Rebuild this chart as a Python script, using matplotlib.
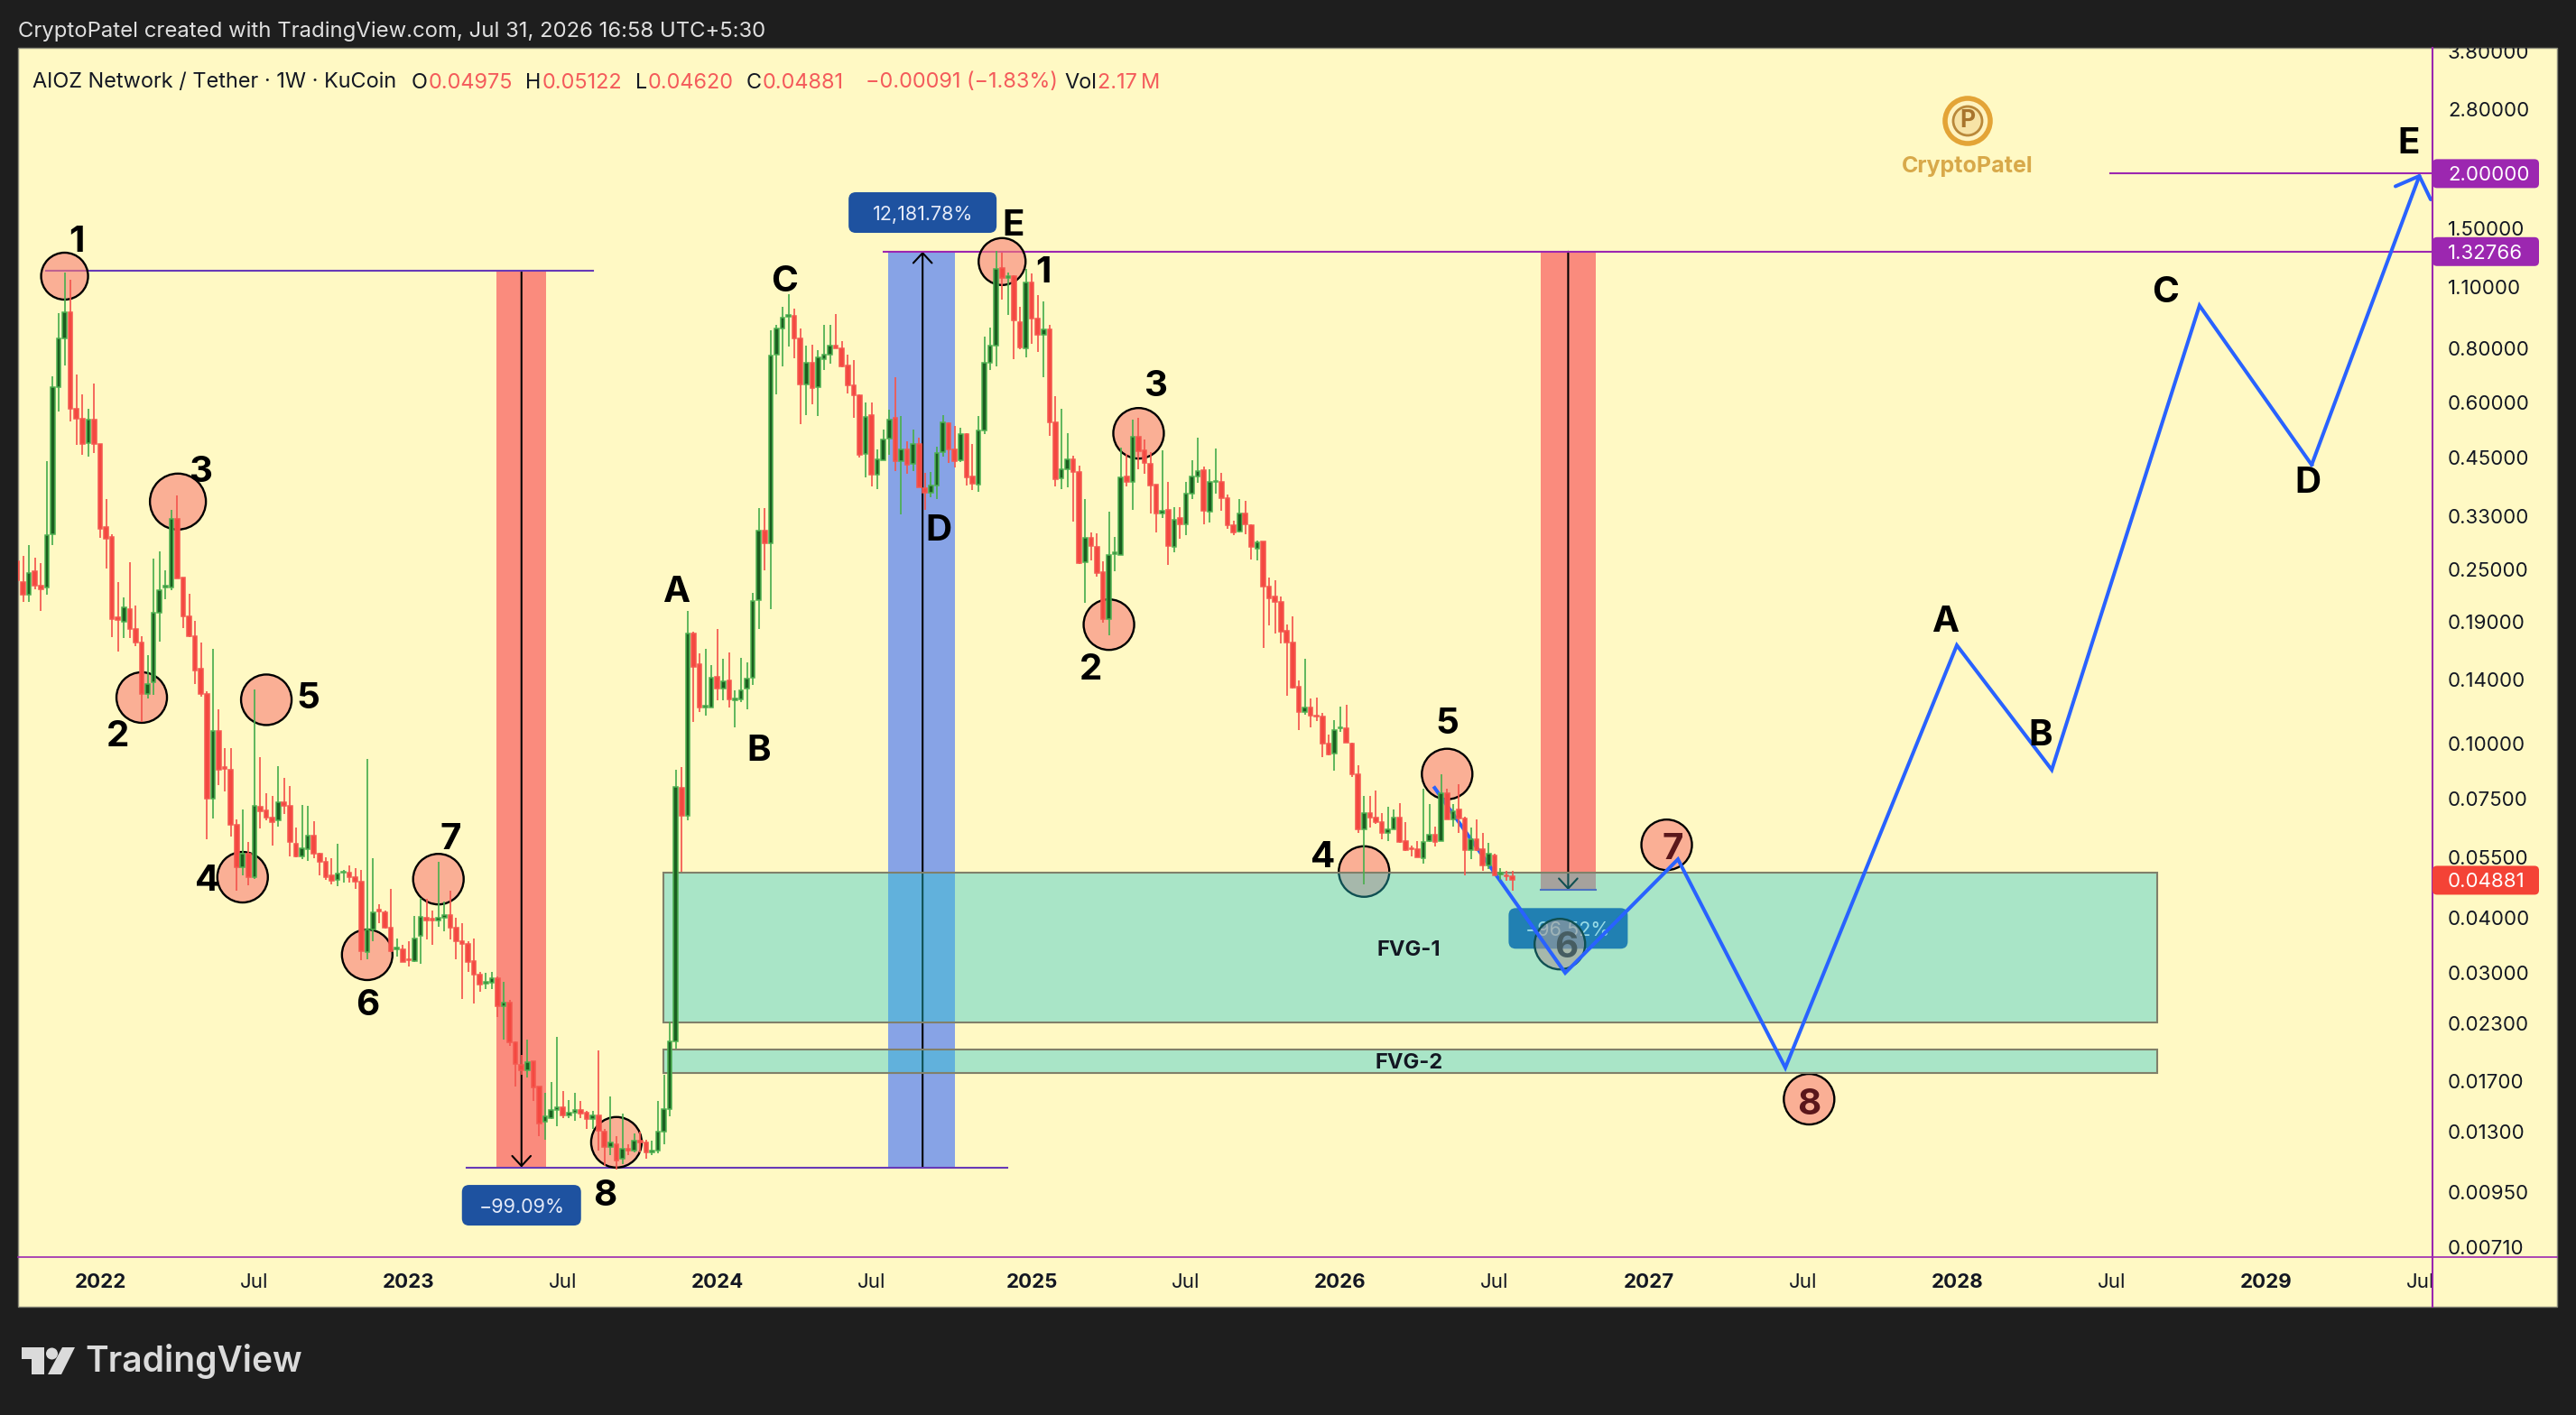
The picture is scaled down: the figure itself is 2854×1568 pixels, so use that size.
import matplotlib
matplotlib.use("Agg")
import matplotlib.pyplot as plt
from matplotlib.patches import Rectangle, FancyBboxPatch, Circle, Polygon
from matplotlib.lines import Line2D
from matplotlib.transforms import Affine2D, IdentityTransform, Bbox
from matplotlib.ticker import FixedLocator, FixedFormatter, NullLocator

plt.rcParams['font.family'] = ['Inter', 'Roboto', 'DejaVu Sans']

# ---------- weekly candles (first bar index -14; index 0 = first week of 2022) ----------
first_bar = -14
opens = [
 .261,.234,.219,.247,.230,.227,.301,.652,.840,.966,.581,.552,.485,.549,
 .483,.312,.296,.194,.190,.203,.183,.170,.130,.138,.199,.227,.227,.326,.239,.195,
 .176,.148,.130,.075,.107,.0883,.0872,.0654,.0522,.0561,.0496,.0719,.0705,.0680,.0669,.0736,
 .0720,.0591,.0553,.0576,.0616,.0562,.0537,.0500,.0488,.0508,.0508,.0497,.0485,.0334,
 .0377,.0418,.0412,.0381,.0340,.0340,.0322,.0319,.0365,.0401,.0398,.0395,.0400,.0407,
 .0381,.0354,.0350,.0319,.0298,.0283,.0285,.0292,.0252,.0257,.0208,.0185,.0180,.0189,.0165,.0137,
 .0140,.0146,.0148,.0142,.0144,.0146,.0144,.0139,.0142,.0130,.0120,.0122,.0113,.0119,.0118,.0124,
 .0123,.0117,.0118,.0130,.0147,.0209,.0795,.0685,.1785,.1517,.1212,.1212,.1424,.1335,.1392,.1255,
 .1264,.1335,.1417,.2126,.306,.287,.772,.885,.941,.945,.843,.660,.739,.651,.755,.771,.809,.800,
 .730,.658,.625,.458,.561,.411,.444,.497,.554,.441,.469,.436,.483,.383,.374,.388,.463,.539,.470,
 .443,.509,.407,.391,.519,.739,.810,1.215,1.158,1.165,.917,.800,1.128,.934,.856,.881,.541,.403,
 .424,.445,.418,.260,.295,.282,.246,.193,.271,.270,.408,.396,.501,.468,.436,.390,.336,.341,.281,
 .327,.317,.372,.408,.421,.339,.395,.395,.364,.316,.305,.336,.316,.279,.290,.2284,.2170,.2110,
 .1812,.1700,.1349,.1183,.1212,.1158,.1153,.1000,.0952,.1083,.1083,.1000,.0852,.0637,.0696,.0680,
 .0662,.0626,.0637,.0680,.0599,.0577,.0574,.0548,.0599,.0621,.0599,.0771,.0672,.0708,.0675,.0573,
 .0606,.0574,.0527,.0557,.0503,.0502,.04975]
highs = [
 .272,.268,.284,.266,.258,.441,.689,.961,1.19,1.145,.696,.627,.580,.664,
 .483,.362,.300,.234,.216,.260,.207,.176,.159,.264,.275,.249,.341,.368,.240,.220,
 .191,.170,.132,.165,.120,.0978,.0978,.0672,.0708,.0596,.1333,.0933,.0772,.0759,.0890,.0834,
 .0800,.0643,.0724,.0720,.0667,.0565,.0550,.0548,.0592,.0515,.0527,.0519,.0515,.0925,
 .0549,.0430,.0416,.0467,.0360,.0347,.0355,.0404,.0445,.0442,.0416,.0539,.0436,.0461,
 .0400,.0390,.0354,.0360,.0302,.0300,.0302,.0295,.0286,.0260,.0209,.0195,.0211,.0189,.0165,.0160,
 .0169,.0214,.0161,.0154,.0160,.0153,.0145,.0145,.0200,.0132,.0157,.0127,.0143,.0122,.0129,.0130,
 .0125,.0124,.0153,.0176,.0232,.0873,.0884,.201,.1805,.1608,.1650,.1510,.1830,.1561,.1617,.1325,
 .1570,.1533,.221,.345,.345,.878,.904,.994,1.059,.983,.885,.809,.815,.790,.904,.904,.955,.829,
 .772,.752,.627,.601,.601,.470,.520,.579,.687,.560,.490,.520,.500,.415,.417,.476,.563,.541,.532,
 .527,.512,.484,.560,.849,.889,1.334,1.32,1.188,1.171,.994,1.21,1.183,1.056,1.024,.904,.620,.582,
 .512,.455,.432,.362,.304,.302,.261,.338,.296,.474,.459,.550,.554,.495,.464,.391,.468,.395,.346,
 .347,.395,.444,.499,.429,.424,.471,.416,.370,.323,.362,.359,.317,.291,.290,.2394,.2356,.2164,
 .1869,.1950,.1395,.1564,.1268,.1273,.1176,.1050,.1130,.1214,.1230,.1004,.0894,.0761,.0761,.0783,
 .0696,.0718,.0707,.0733,.0663,.0586,.0599,.0790,.0729,.0647,.0853,.0790,.0729,.0810,.0683,.0644,
 .0672,.0627,.0595,.0560,.0521,.0513,.05122]
lows = [
 .235,.211,.211,.225,.201,.219,.284,.572,.73,.544,.481,.457,.452,.460,
 .295,.251,.175,.162,.174,.174,.167,.112,.127,.129,.171,.214,.224,.238,.184,.175,
 .137,.128,.0606,.0675,.0804,.0780,.0615,.0463,.0500,.0476,.0491,.0642,.0670,.0587,.0648,.0690,
 .0554,.0551,.0546,.0540,.0549,.0502,.0490,.0478,.0473,.0483,.0483,.0467,.0321,.0322,
 .0354,.0389,.0379,.0334,.0327,.0317,.0310,.0318,.0315,.0357,.0348,.0382,.0373,.0358,
 .0322,.0261,.0301,.0256,.0272,.0276,.0275,.0238,.0211,.0204,.0165,.0176,.0173,.0153,.0127,.0125,
 .0139,.0134,.0140,.0140,.0138,.0140,.0132,.0132,.0118,.0109,.0115,.0107,.0110,.0115,.0117,.0117,
 .0113,.0115,.0116,.0122,.0141,.0202,.0510,.0670,.1119,.1184,.1162,.1212,.1257,.1255,.1212,.1088,
 .1243,.1197,.1365,.183,.2485,.2026,.628,.725,.805,.758,.537,.563,.596,.559,.714,.736,.797,.722,
 .629,.554,.450,.406,.386,.381,.444,.457,.420,.334,.414,.420,.385,.342,.366,.362,.453,.438,.428,
 .440,.389,.379,.375,.508,.712,.725,1.034,.953,.753,.794,.761,.818,.785,.686,.504,.386,.381,
 .384,.322,.257,.210,.262,.241,.189,.177,.248,.270,.386,.341,.423,.414,.335,.304,.327,.256,.274,
 .294,.299,.362,.394,.317,.320,.372,.340,.310,.299,.304,.300,.263,.262,.1655,.186,.1781,.1697,
 .1286,.1336,.1077,.1165,.1092,.1125,.0933,.0941,.0869,.1065,.1004,.0838,.0626,.0478,.0645,.0657,
 .0605,.0600,.0637,.0595,.0569,.0552,.0550,.0532,.0597,.0583,.0599,.0671,.0648,.0625,.0500,.0545,
 .0569,.0512,.0517,.0500,.0490,.0486,.04620]
closes = [
 .236,.219,.245,.229,.225,.299,.652,.840,.966,.581,.552,.483,.549,.483,
 .310,.294,.193,.192,.205,.183,.170,.130,.137,.199,.224,.229,.326,.238,.195,.176,
 .147,.130,.075,.107,.0872,.0875,.0654,.0522,.0561,.0496,.0721,.0703,.0677,.0664,.0736,.0723,
 .0598,.0554,.0577,.0616,.0560,.0539,.0495,.0487,.0506,.0510,.0495,.0484,.0336,.0377,
 .0413,.0415,.0380,.0336,.0342,.0318,.0320,.0360,.0403,.0395,.0396,.0401,.0407,.0380,
 .0355,.0350,.0317,.0298,.0282,.0286,.0292,.0252,.0257,.0208,.0186,.0180,.0188,.0164,.0136,.0141,
 .0146,.0148,.0142,.0144,.0146,.0143,.0139,.0142,.0131,.0120,.0123,.0112,.0119,.0118,.0124,.0123,
 .0117,.0118,.0130,.0147,.0209,.0799,.0684,.1785,.1501,.1212,.1221,.1417,.1335,.1390,.1260,.1269,
 .1322,.1410,.2120,.307,.287,.769,.885,.937,.950,.840,.660,.739,.648,.763,.772,.809,.797,.725,
 .659,.624,.457,.558,.411,.445,.494,.550,.441,.469,.434,.482,.385,.374,.388,.461,.541,.469,.441,
 .509,.406,.392,.519,.739,.810,1.211,1.158,1.165,.926,.804,1.128,.932,.858,.881,.541,.401,.423,
 .445,.418,.258,.295,.283,.245,.193,.269,.273,.406,.396,.501,.465,.437,.389,.335,.340,.283,.324,
 .317,.372,.407,.420,.340,.395,.397,.364,.316,.304,.336,.317,.282,.288,.228,.2145,.2110,.1804,
 .1705,.1346,.1184,.1212,.1158,.1153,.1000,.0945,.1073,.1090,.1004,.0851,.0637,.0696,.0680,.0661,
 .0625,.0639,.0680,.0598,.0573,.0574,.0550,.0598,.0621,.0598,.0771,.0672,.0703,.0675,.0573,.0605,
 .0573,.0527,.0560,.0500,.0507,.0499,.04881]
n_bars = min(len(opens), len(highs), len(lows), len(closes))

# ---------- axis ----------
price_ticks = [3.8, 2.8, 1.5, 1.1, 0.8, 0.6, 0.45, 0.33, 0.25, 0.19, 0.14, 0.10, 0.075,
               0.055, 0.04, 0.03, 0.023, 0.017, 0.013, 0.0095, 0.0071]
time_ticks = [0, 26, 52, 78, 104, 130, 157, 183, 209, 235, 261, 287, 313, 339, 365, 391]
time_labels = ['2022', 'Jul', '2023', 'Jul', '2024', 'Jul', '2025', 'Jul', '2026', 'Jul',
               '2027', 'Jul', '2028', 'Jul', '2029', 'Jul']

# ---------- projected wave ----------
wave_x = [224.9, 246.9, 265.9, 284, 312.9, 328.9, 353.8, 372.7]
wave_y = [0.0793, 0.0300, 0.0545, 0.01823, 0.1678, 0.0872, 1.0, 0.433]
wave_end = (391, 2.0)

# ---------- circles and labels ----------
circle_x = [-6, 7, 13.1, 24, 28, 45, 57, 87, 152, 170, 175, 213, 227, 246, 264, 288]
circle_y = [1.167, .1275, .357, .0496, .126, .0330, .0491, .01232, 1.26, .187, .511, .0511, .0853, .0349, .0588, .01545]
circle_d = [52, 56, 62, 56, 56, 56, 56, 56, 52, 56, 56, 56, 56, 56, 56, 56]

label_t = ['1','2','3','4','5','6','7','8','A','B','C','D','E','1','2','3','5','4','A','B','C','D','E']
label_x = [-4,3,17,18,35,45,59,85,97,111,115.3,141.3,153.8,159,167,178,227,206,311,327,348,372,389]
label_y = [1.424,.1055,.424,.0494,.129,.0257,.0615,.00948,.2252,.098,1.151,.311,1.544,1.212,.1498,.664,.1127,.0559,.1926,.106,1.087,.40,2.377]
covered_t = ['6', '7', '8']
covered_x = [247, 265, 288]
covered_y = [.0349, .0585, .01524]

# ---------- zones ----------
fvg_names = ['FVG-1', 'FVG-2']
fvg_x = (94.9, 346.7)
fvg_low = [.02315, .01773]
fvg_high = [.0509, .0201]
fvg_label_x = 220.6
fvg_label_y = [.0342, .01886]

band_left = [66.8, 132.8, 242.8]
band_right = [75.1, 144.0, 252.0]
band_low = [.0108, .0108, .0464]
band_high = [1.2, 1.32766, 1.32766]
band_mid = [71, 138.6, 247.4]
band_text = ['\u221299.09%', '12,181.78%', '\u221296.52%']
band_label_y = [0.00885, 1.63, 0.0379]
band_color = ['#FA8B7D', '#87A3E6', '#FA8B7D']

W, H, DPI = 2854, 1568, 100
L_PX, R_PX, T_PX, B_PX = 20, 2695, 53, 1393
BAR0_PX, BAR_STEP = 111, 6.574
fig = plt.figure(figsize=(W / DPI, H / DPI), dpi=DPI, facecolor='#1E1E1E')
px = Affine2D().scale(1, -1).translate(0, H)

fig.add_artist(Rectangle((20, 53), 2813, 1395, transform=px, fc='#FFF9C4', ec='#8A8A7A', lw=1.0, zorder=-1))

ax = fig.add_axes([L_PX / W, (H - B_PX) / H, (R_PX - L_PX) / W, (B_PX - T_PX) / H], facecolor='none')
ax.set_yscale('log')
ax.set_xlim((L_PX - BAR0_PX) / BAR_STEP, (R_PX - BAR0_PX) / BAR_STEP)
ax.set_ylim(0.00674, 3.873)
for s in ax.spines.values():
    s.set_visible(False)
ax.yaxis.tick_right()
ax.yaxis.set_major_locator(FixedLocator(price_ticks))
ax.yaxis.set_minor_locator(NullLocator())
ax.yaxis.set_major_formatter(FixedFormatter([f'{p:.5f}' for p in price_ticks]))
ax.tick_params(axis='y', length=0, pad=12.2, labelsize=16, labelcolor='#131722')
ax.set_xticks(time_ticks)
ax.set_xticklabels(time_labels)
ax.tick_params(axis='x', length=0, pad=13, labelsize=16, labelcolor='#131722')
for lab, t in zip(ax.get_xticklabels(), time_labels):
    if t != 'Jul':
        lab.set_fontweight('bold')
clip = Bbox([[20, H - B_PX], [2833, H - T_PX]])
for lab in ax.get_yticklabels():
    lab.set_clip_on(True)
    lab.set_clip_box(clip)

# bands + arrows
for k in range(3):
    ax.add_patch(Rectangle((band_left[k], band_low[k]), band_right[k] - band_left[k],
                           band_high[k] - band_low[k], fc=band_color[k], ec='none', zorder=1))
    up = k == 1
    ax.annotate('', xy=(band_mid[k], band_high[k] if up else band_low[k]),
                xytext=(band_mid[k], band_low[k] if up else band_high[k]),
                arrowprops=dict(arrowstyle='->,head_length=0.4,head_width=0.37', mutation_scale=20,
                                lw=1.5, color='black', shrinkA=0, shrinkB=0), zorder=1.5)

# reference levels
ax.plot([-9.1, 83.1], [1.2, 1.2], color='#673AB7', lw=1.5, zorder=1.6)
ax.plot([61.8, 152.9], [.0108, .0108], color='#673AB7', lw=1.5, zorder=1.6)
ax.plot([132, (R_PX - BAR0_PX) / BAR_STEP], [1.32766, 1.32766], color='#9C27B0', lw=1.5, zorder=1.6)
ax.plot([338.8, (R_PX - BAR0_PX) / BAR_STEP], [2.0, 2.0], color='#9C27B0', lw=1.5, zorder=1.6)
ax.plot([band_left[2], band_right[2]], [band_low[2]] * 2, color='#673AB7', lw=1.5, zorder=1.6)

# measure labels (sized in pixels, centred on their band)
def measure_box(cx_bar, cy_price, wpx, hpx, text, zorder):
    cx, cy = ax.transData.transform((cx_bar, cy_price))
    ax.add_patch(FancyBboxPatch((cx - wpx / 2, cy - hpx / 2), wpx, hpx,
                                boxstyle='round,pad=0,rounding_size=8', transform=IdentityTransform(),
                                fc='#1E52A0', ec='none', zorder=zorder))
    ax.text(cx, cy, text, transform=IdentityTransform(), ha='center', va='center_baseline',
            color='#E4EAF8', fontsize=15.5, zorder=zorder + .1)

measure_box(band_mid[0], band_label_y[0], 132, 45, band_text[0], 2)
measure_box(band_mid[1], band_label_y[1], 164, 45, band_text[1], 2)
measure_box(band_mid[2], band_label_y[2], 132, 45, band_text[2], 2)

# circles and the numerals inside them
ax.scatter(circle_x, circle_y, s=[(d * .72) ** 2 for d in circle_d], fc=(247 / 255, 126 / 255, 119 / 255, .6),
           ec='black', lw=1.7, zorder=3)
for t, x, y in zip(covered_t, covered_x, covered_y):
    ax.text(x, y, t, fontsize=29, fontweight='bold', ha='center', va='center_baseline', color='#5A171B', zorder=3.1)

# FVG zones
for nm, lo, hi, ly in zip(fvg_names, fvg_low, fvg_high, fvg_label_y):
    ax.add_patch(Rectangle((fvg_x[0], lo), fvg_x[1] - fvg_x[0], hi - lo,
                           fc=(40 / 255, 199 / 255, 206 / 255, .4), ec='#80806A', lw=1.5, zorder=4))
    ax.text(fvg_label_x, ly, nm, fontsize=17, fontweight='bold', ha='center', va='center_baseline',
            color='#131722', zorder=4.2)

# wave
ax.plot(wave_x, wave_y, color='#2962FF', lw=2.9, solid_joinstyle='miter', zorder=5)
ax.annotate('', xy=wave_end, xytext=(wave_x[-1], wave_y[-1]),
            arrowprops=dict(arrowstyle='->,head_length=0.72,head_width=0.75', mutation_scale=20,
                            lw=2.9, color='#2962FF', shrinkA=0, shrinkB=0), zorder=5)

# candles
xs = [first_bar + i for i in range(n_bars)]
up_flags = [closes[i] >= opens[i] for i in range(n_bars)]
wick_c = ['#4CAF50' if u else '#F4574F' for u in up_flags]
ax.vlines(xs, lows[:n_bars], highs[:n_bars], colors=wick_c, lw=1.25, zorder=6)
tops = [max(opens[i], closes[i]) for i in range(n_bars)]
bots = [min(opens[i], closes[i]) for i in range(n_bars)]
ax.bar(xs, [t - b for t, b in zip(tops, bots)], bottom=bots, width=0.7,
       color=['#1B5E20' if u else '#F44840' for u in up_flags],
       edgecolor=wick_c, linewidth=1.1, zorder=6.1, log=False)

# plain labels
for t, x, y in zip(label_t, label_x, label_y):
    ax.text(x, y, t, fontsize=29, fontweight='bold', ha='center', va='center_baseline', color='black', zorder=7)

# axis lines
fig.add_artist(Line2D([2695, 2695], [53, 1448], transform=px, color='#9C27B0', lw=1.5, zorder=5))
fig.add_artist(Line2D([20, 2833], [1393, 1393], transform=px, color='#9C27B0', lw=1.2, zorder=5))

# price badges
def badge(price, text, color):
    _, cy = ax.transData.transform((0, price))
    fig.add_artist(FancyBboxPatch((2695, cy - 16), 118, 32, boxstyle='round,pad=0,rounding_size=5',
                                  transform=IdentityTransform(), fc=color, ec='none', zorder=6))
    fig.text(2712, cy, text, transform=IdentityTransform(), color='white', fontsize=16,
             ha='left', va='center_baseline', zorder=7)

badge(2.0, '2.00000', '#9C27B0')
badge(1.32766, '1.32766', '#9C27B0')
badge(0.04881, '0.04881', '#F44336')

# header
fig.text(20, 35, 'CryptoPatel created with TradingView.com, Jul 31, 2026 16:58 UTC+5:30', transform=px,
         color='#E0E0E0', fontsize=17.2, ha='left', va='center')
RED = '#F45B5B'
title_parts = [('AIOZ Network / Tether \u00b7 1W \u00b7 KuCoin', 36, '#131722'), ('O', 456, '#131722'), ('0.04975', 475, RED),
               ('H', 582, '#131722'), ('0.05122', 601, RED), ('L', 704, '#131722'), ('0.04620', 718, RED),
               ('C', 827, '#131722'), ('0.04881', 845, RED), ('\u22120.00091 (\u22121.83%)', 959, RED),
               ('Vol', 1179, '#131722'), ('2.17\u2009M', 1216, RED)]
for t, x, c in title_parts:
    fig.text(x, 89, t, transform=px, color=c, fontsize=16.9, ha='left', va='center_baseline', zorder=8,
             family=['Inter', 'DejaVu Sans'])

# TradingView mark
fig.add_artist(Polygon([(24, 1493), (48.5, 1493), (48.5, 1523), (35, 1523), (35, 1506), (24, 1506)],
                       transform=px, fc='#DBDBDB', ec='none', zorder=8))
fig.add_artist(Circle((57.5, 1500), 6.5, transform=px, fc='#DBDBDB', ec='none', zorder=8))
fig.add_artist(Polygon([(69, 1493), (83, 1493), (68, 1523), (53, 1523)], transform=px, fc='#DBDBDB', ec='none', zorder=8))
fig.text(94, 1509, 'TradingView', transform=px, color='#DBDBDB', fontsize=28, fontweight='semibold',
         ha='left', va='center', zorder=8)

# CryptoPatel mark
fig.add_artist(Circle((2180, 134), 25, transform=px, fc='#FFF3C0', ec='#E3A437', lw=4, zorder=8))
fig.add_artist(Circle((2180, 134), 16, transform=px, fc='#F7E3A6', ec='#B9883A', lw=2, zorder=8))
fig.text(2180, 134, 'P', transform=px, color='#A8742C', fontsize=19, fontweight='bold', ha='center', va='center', zorder=9)
fig.text(2180, 185, 'CryptoPatel', transform=px, color='#D8A94A', fontsize=18, fontweight='bold', ha='center', va='center', zorder=8)

fig.savefig('out.png', dpi=DPI, facecolor=fig.get_facecolor())
